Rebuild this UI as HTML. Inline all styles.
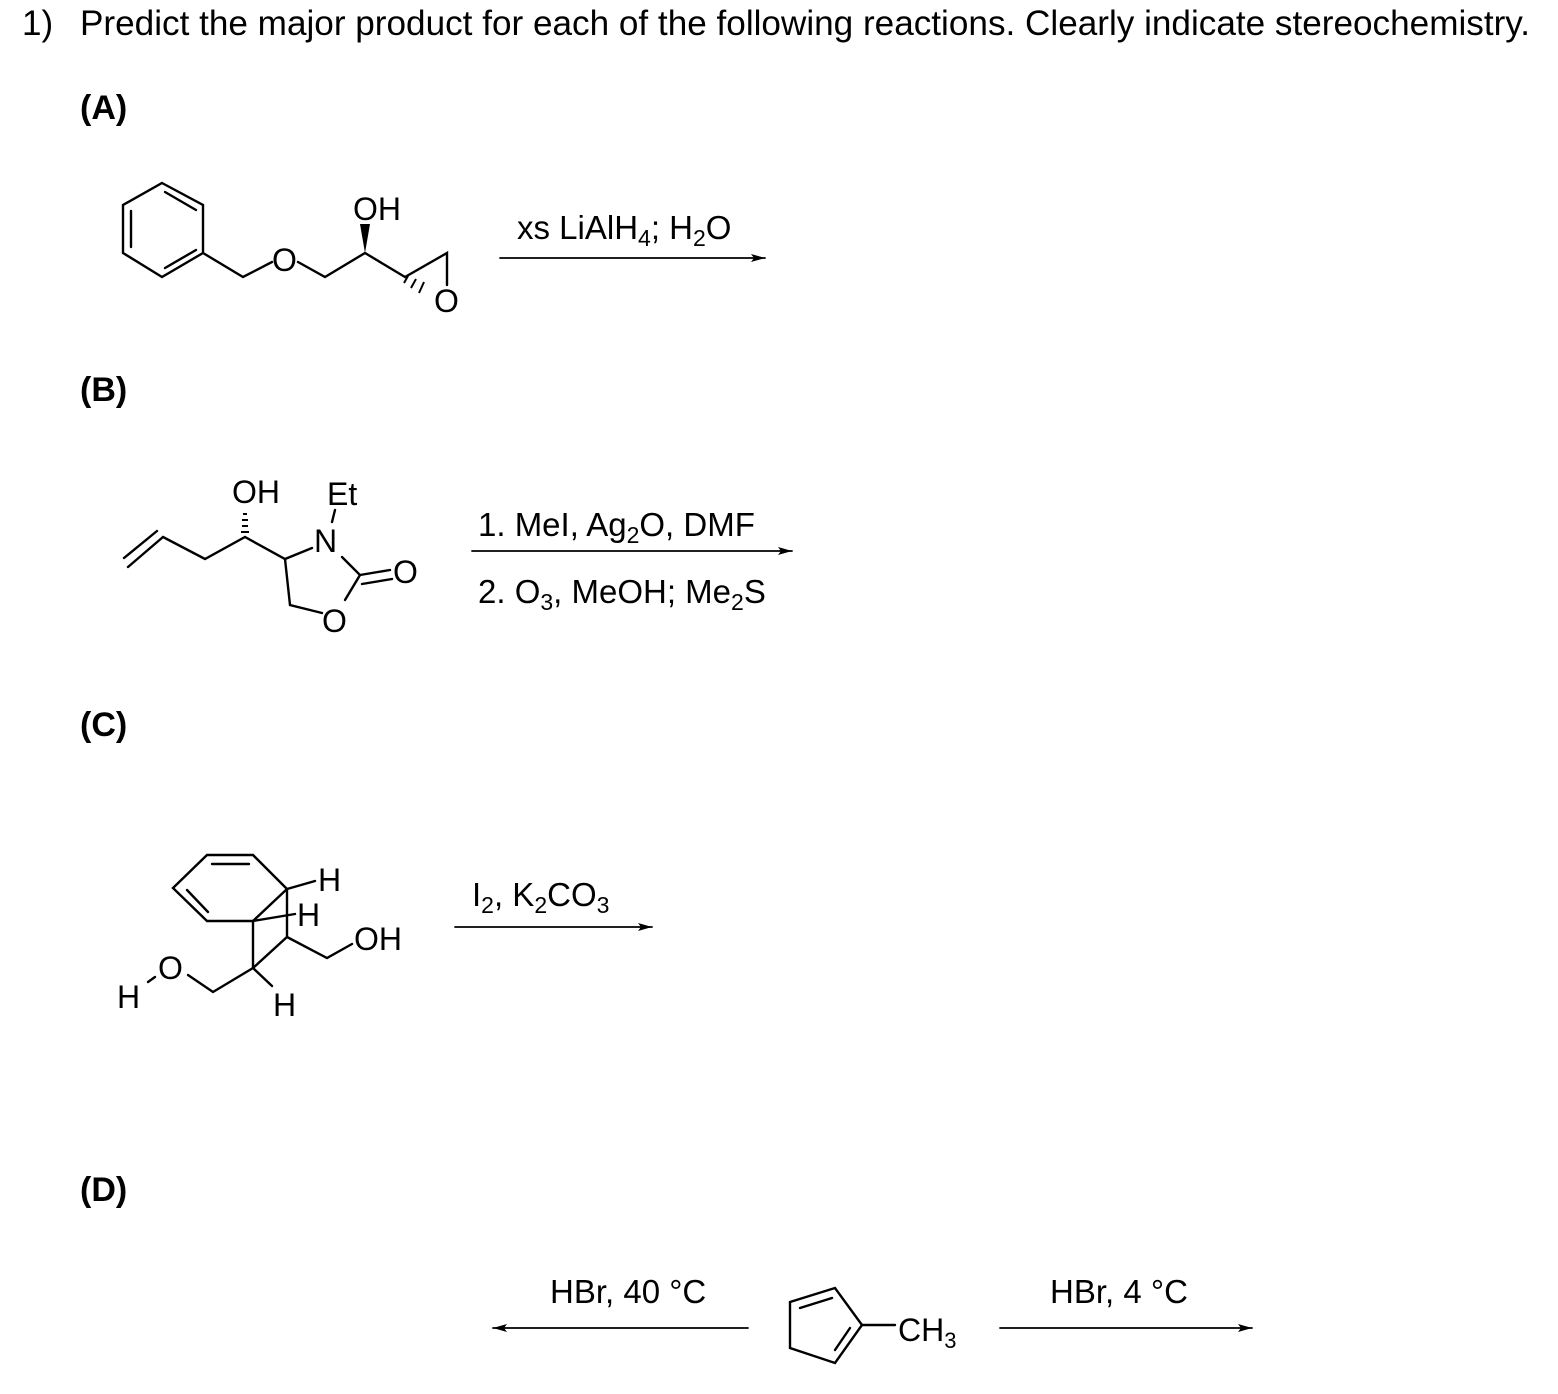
<!DOCTYPE html>
<html><head><meta charset="utf-8"><style>
html,body{margin:0;padding:0;background:#fff;}
svg{display:block;}
text{font-family:"Liberation Sans",Arial,sans-serif;fill:#000;}
</style></head><body>
<svg width="1558" height="1394" viewBox="0 0 1558 1394" xmlns="http://www.w3.org/2000/svg">
<defs><marker id="ah" markerWidth="14" markerHeight="8" refX="14" refY="4" orient="auto" markerUnits="userSpaceOnUse"><path d="M0,0 L14,4 L0,8 L3,4 Z" fill="#000"/></marker></defs>
<g font-size="35">
<text x="22" y="35">1)</text>
<text x="80" y="35" textLength="1450" lengthAdjust="spacingAndGlyphs">Predict the major product for each of the following reactions. Clearly indicate stereochemistry.</text>
</g>
<g font-size="34" font-weight="bold">
<text x="80" y="119">(A)</text>
<text x="80" y="401">(B)</text>
<text x="80" y="736">(C)</text>
<text x="80" y="1201">(D)</text>
</g>
<g stroke="#000" stroke-width="2.4" fill="none" stroke-linecap="round">
<!-- A -->
<polygon points="162,183 203,205 203,253 162,277 123,253 123,205"/>
<line x1="131" y1="211" x2="131" y2="247"/>
<line x1="165" y1="192" x2="196" y2="210"/>
<line x1="165" y1="268" x2="196" y2="250"/>
<polyline points="203,253 243,277 272,262"/>
<polyline points="298,262 325,277 365,253 405,277 447,253 447,285"/>
<!-- B -->
<line x1="128" y1="567" x2="163" y2="537"/>
<line x1="124" y1="558" x2="157" y2="531"/>
<polyline points="163,537 205,559 245,537 285,559 312,548"/>
<line x1="332" y1="522" x2="335" y2="510"/>
<polyline points="342,557 360,575 345,600"/>
<line x1="360" y1="575" x2="390" y2="570"/>
<line x1="362" y1="584" x2="392" y2="579"/>
<polyline points="285,559 290,605 322,613"/>
<!-- C -->
<polygon points="207,855 253,855 287,889 253,921 207,921 173,888"/>
<line x1="212" y1="864" x2="249" y2="864"/>
<line x1="187" y1="890" x2="208" y2="912"/>
<line x1="287" y1="889" x2="315" y2="881"/>
<line x1="253" y1="921" x2="295" y2="914"/>
<line x1="287" y1="889" x2="287" y2="937"/>
<line x1="253" y1="921" x2="253" y2="968"/>
<polyline points="253,968 287,937 327,958 352,944"/>
<line x1="253" y1="968" x2="272" y2="986"/>
<polyline points="188,975 213,992 253,968"/>
<line x1="148" y1="982" x2="155" y2="977"/>
<!-- D -->
<polygon points="790,1302 835,1288 862,1325 835,1363 790,1348"/>
<line x1="800" y1="1308" x2="832" y2="1298"/>
<line x1="835" y1="1350" x2="850" y2="1328"/>
<line x1="862" y1="1325" x2="895" y2="1325"/>
<!-- arrows -->
<line x1="500" y1="258" x2="765" y2="258" marker-end="url(#ah)" stroke-width="1.8"/>
<line x1="472" y1="551" x2="792" y2="551" marker-end="url(#ah)" stroke-width="1.8"/>
<line x1="455" y1="927" x2="652" y2="927" marker-end="url(#ah)" stroke-width="1.8"/>
<line x1="748" y1="1328" x2="493" y2="1328" marker-end="url(#ah)" stroke-width="1.8"/>
<line x1="1000" y1="1328" x2="1252" y2="1328" marker-end="url(#ah)" stroke-width="1.8"/>
</g>
<polygon points="365,253 360,224 370,224" fill="#000"/>
<g stroke="#000" stroke-width="2">
<line x1="408" y1="276" x2="404" y2="283"/>
<line x1="416" y1="279" x2="411" y2="288"/>
<line x1="424" y1="282" x2="419" y2="293"/>
<line x1="241" y1="532" x2="249" y2="532"/>
<line x1="242" y1="526" x2="248" y2="526"/>
<line x1="242" y1="520" x2="248" y2="520"/>
<line x1="243" y1="514" x2="247" y2="514"/>
</g>
<g font-size="32">
<text x="353" y="220">OH</text>
<text x="272" y="271">O</text>
<text x="434" y="312">O</text>
<text x="232" y="503">OH</text>
<text x="327" y="505">Et</text>
<text x="314" y="552">N</text>
<text x="393" y="583">O</text>
<text x="322" y="632">O</text>
<text x="318" y="891">H</text>
<text x="297" y="926">H</text>
<text x="354" y="950">OH</text>
<text x="158" y="979">O</text>
<text x="117" y="1008">H</text>
<text x="273" y="1016">H</text>
<text x="898" y="1341">CH<tspan font-size="22" dy="7">3</tspan></text>
</g>
<g font-size="33">
<text x="517" y="239">xs LiAlH<tspan font-size="23" dy="7">4</tspan><tspan dy="-7">; H</tspan><tspan font-size="23" dy="7">2</tspan><tspan dy="-7">O</tspan></text>
<text x="478" y="536">1. MeI, Ag<tspan font-size="23" dy="7">2</tspan><tspan dy="-7">O, DMF</tspan></text>
<text x="478" y="603">2. O<tspan font-size="23" dy="7">3</tspan><tspan dy="-7">, MeOH; Me</tspan><tspan font-size="23" dy="7">2</tspan><tspan dy="-7">S</tspan></text>
<text x="472" y="906">I<tspan font-size="23" dy="7">2</tspan><tspan dy="-7">, K</tspan><tspan font-size="23" dy="7">2</tspan><tspan dy="-7">CO</tspan><tspan font-size="23" dy="7">3</tspan></text>
<text x="550" y="1303">HBr, 40 °C</text>
<text x="1050" y="1303">HBr, 4 °C</text>
</g>
</svg>
</body></html>
